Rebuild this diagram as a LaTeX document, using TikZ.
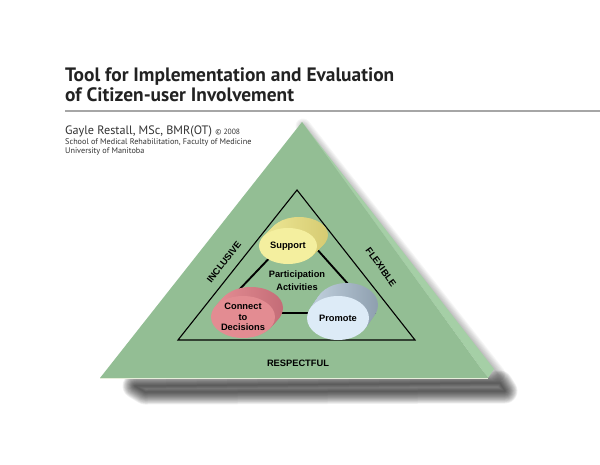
\documentclass[tikz,border=0pt]{standalone}
\usepackage{fontspec}
\setmainfont{PT Sans}
\newfontfamily\arialf{Liberation Sans}
\usetikzlibrary{shapes.geometric}
\definecolor{frontg}{HTML}{93BE94}
\definecolor{stripg}{HTML}{A5CFA6}
\definecolor{edgel}{HTML}{E6EEDA}
\definecolor{supF}{HTML}{F4EF9F}
\definecolor{supB}{HTML}{D6CB72}
\definecolor{conF}{HTML}{E38C92}
\definecolor{conB}{HTML}{C46C77}
\definecolor{proF}{HTML}{DDEBF7}
\definecolor{proB}{HTML}{8E9FAF}
\definecolor{titlec}{HTML}{222222}
\definecolor{subc}{HTML}{333333}
\tikzset{
  lbl/.style={font=\arialf\bfseries\fontsize{9.3}{10}\selectfont, text=black, inner sep=0pt},
  oval/.style={ellipse, inner sep=0pt, font=\arialf\bfseries\fontsize{9.3}{10.5}\selectfont, text=black, align=center},
  conn/.style={line width=1.9pt, black},
  inner/.style={line width=1.1pt, black},
  softsh/.style={black, opacity=0.055, line join=round, line cap=round}
}
\begin{document}
\begin{tikzpicture}[x=1pt,y=-1pt]
\useasboundingbox (0,0) rectangle (600,464);
\fill[white] (0,0) rectangle (600,464);

% titles
\node[anchor=base west, inner sep=0pt, text=titlec, font=\bfseries\fontsize{19.4}{22}\selectfont] (t1) at (65,81) {Tool for Implementation and Evaluation};
\node[anchor=base west, inner sep=0pt, text=titlec, font=\bfseries\fontsize{19.4}{22}\selectfont] (t2) at (65,101) {of Citizen-user Involvement};
\draw[line width=1.5pt, gray!70] (65,111) coordinate (r1) -- (600,111) coordinate (r2);
\node[anchor=base west, inner sep=0pt, text=subc, font=\fontsize{12.2}{14}\selectfont] (au) at (65,134) {Gayle Restall, MSc, BMR(OT) {\fontsize{7.6}{8}\selectfont\textcopyright\ 2008}};
\node[anchor=base west, inner sep=0pt, text=subc, font=\fontsize{8.2}{9}\selectfont] (sc) at (65,144.5) {School of Medical Rehabilitation, Faculty of Medicine};
\node[anchor=base west, inner sep=0pt, text=subc, font=\fontsize{8.2}{9}\selectfont] (un) at (65,153) {University of Manitoba};

% triangle corners
\coordinate (A) at (302,122);
\coordinate (BL) at (100,378);
\coordinate (BR) at (488,378);
\coordinate (S) at (494,369);

% soft shadows
\foreach \w in {1,2.5,...,25}
  \draw[softsh, line width=\w pt] (135,386) -- (500,383) -- (505,391) -- (145,392) -- cycle;
\foreach \w in {1,3,...,15}
  \draw[softsh, opacity=0.035, line width=\w pt] (303,126) -- (498,374);

% pyramid
\fill[stripg] (A) -- (S) -- (BR) -- cycle;
\fill[frontg] (A) -- (BR) -- (BL) -- cycle;
\draw[edgel, line width=1pt] (BL) -- (BR);

% inner triangle
\coordinate (IA) at (297,190);
\coordinate (IL) at (178,340);
\coordinate (IR) at (415,340);
\draw[inner] (IA) -- (IR) -- (IL) -- cycle;

% connectors
\coordinate (cS) at (298,228);
\coordinate (cC) at (217,313);
\coordinate (cP) at (374,313);
\draw[conn] (cS) -- (cC) -- (cP) -- cycle;

% Support cylinder
\foreach \i in {1,...,14}
  \shade[left color=supF!70!supB, right color=supB] ({288+11*\i/14},{246-11*\i/14}) ellipse [x radius=29, y radius=18];
\node[oval, fill=supF, minimum width=58pt, minimum height=36pt] (sup) at (288,246) {Support};

% Connect cylinder
\foreach \i in {1,...,14}
  \shade[left color=conF, right color=conB] ({243+8*\i/14},{317-9*\i/14}) ellipse [x radius=32, y radius=21];
\node[oval, fill=conF, minimum width=64pt, minimum height=42pt] (con) at (243,317) {Connect\\to\\Decisions};

% Promote cylinder
\foreach \i in {1,...,14}
  \shade[left color=proF!60!proB, right color=proB] ({338+9*\i/14},{318-13*\i/14}) ellipse [x radius=31, y radius=22];
\node[oval, fill=proF, minimum width=62pt, minimum height=44pt] (pro) at (338,318) {Promote};

% labels
\node[lbl, align=center] (pa) at (297,281) {Participation\\[3pt]Activities};
\node[lbl, rotate=52] (inc) at (224,262) {INCLUSIVE};
\node[lbl, rotate=-54] (flx) at (381,267) {FLEXIBLE};
\node[lbl] (res) at (298,363) {RESPECTFUL};
\end{tikzpicture}
\end{document}
